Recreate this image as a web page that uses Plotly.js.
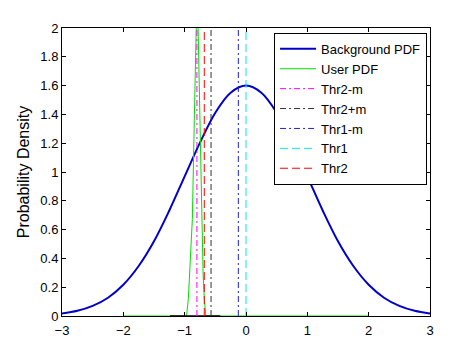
<!DOCTYPE html>
<html>
<head>
<meta charset="utf-8">
<script src="https://cdn.plot.ly/plotly-3.0.1.min.js"></script>
<style>html,body{margin:0;padding:0;background:#fff;}#chart{width:474px;height:355px;}</style>
</head>
<body>
<div id="chart"></div>
<script>
// Background PDF
const bgX = [-3, -2.75, -2.5, -2.25, -2, -1.75, -1.5, -1.25, -1, -0.75, -0.5, -0.25, 0,
             0.25, 0.5, 0.75, 1, 1.25, 1.5, 1.75, 2, 2.25, 2.5, 2.75, 3];
const bgY = [0.018, 0.036, 0.070, 0.127, 0.217, 0.347, 0.519, 0.733, 0.970, 1.204, 1.412, 1.551, 1.600,
             1.551, 1.412, 1.204, 0.970, 0.733, 0.519, 0.347, 0.217, 0.127, 0.070, 0.036, 0.018];

// User PDF
const userX = [-2, -0.97, -0.94, -0.91, -0.875, -0.843, -0.815, -0.797, -0.778, -0.75, -0.722, -0.70, -0.68, -0.655, 2];
const userY = [0, 0, 0.12, 0.35, 0.67, 1.36, 1.94, 2.3, 1.94, 1.36, 0.67, 0.30, 0.12, 0, 0];

// Dark baseline segment
const baseX = [-1.24, -0.42];
const baseY = [0, 0];

// Threshold lines
const thrNames = ['Thr2-m', 'Thr2+m', 'Thr1-m', 'Thr1', 'Thr2'];
const thrValues = [-0.80, -0.57, -0.125, 0.0, -0.68];
const thrColors = ['#ff00ff', '#303030', '#2020d0', '#00e8f0', '#ff0000'];
const thrDash = ['6px,3px,2px,3px', '6px,3px,2px,3px', '6px,3px,2px,3px', '8px,4px', '8px,4px'];

const yLimits = [0, 2];
const xTicks = [-3, -2, -1, 0, 1, 2, 3];

const traces = [
  {x: bgX, y: bgY, mode: 'lines', name: 'Background PDF', line: {color: '#0000c8', width: 2, shape: 'spline'}},
  {x: userX, y: userY, mode: 'lines', name: 'User PDF', line: {color: '#00e000', width: 1}},
  {x: baseX, y: baseY, mode: 'lines', showlegend: false, line: {color: '#000000', width: 1.5}}
];
thrNames.forEach((n, i) => {
  traces.push({x: [thrValues[i], thrValues[i]], y: yLimits, mode: 'lines', name: n,
    line: {color: thrColors[i], width: 1, dash: thrDash[i]}});
});

const layout = {
  width: 474, height: 355,
  margin: {l: 62, r: 44, t: 28, b: 39, pad: 0},
  paper_bgcolor: '#fff', plot_bgcolor: '#fff',
  font: {family: 'Liberation Sans, Arial, sans-serif', size: 13, color: '#000'},
  showlegend: true,
  legend: {x: 0.992, y: 0.983, xanchor: 'right', yanchor: 'top', bgcolor: '#fff',
    bordercolor: '#000', borderwidth: 1, font: {size: 13}, tracegroupgap: 0, itemwidth: 36},
  xaxis: {range: [-3, 3], tickvals: xTicks, ticks: 'inside', ticklen: 4, tickcolor: '#000',
    showline: true, linecolor: '#000', linewidth: 1, mirror: 'ticks', showgrid: false, zeroline: false,
    tickfont: {size: 13}, ticklabelstandoff: 2},
  yaxis: {range: yLimits, dtick: 0.2, tick0: 0, ticks: 'inside', ticklen: 4, tickcolor: '#000',
    showline: true, linecolor: '#000', linewidth: 1, mirror: 'ticks', showgrid: false, zeroline: false,
    tickfont: {size: 13}, title: {text: 'Probability Density', font: {size: 16}, standoff: 6}}
};

Plotly.newPlot('chart', traces, layout, {displayModeBar: false, staticPlot: true});
</script>
</body>
</html>
